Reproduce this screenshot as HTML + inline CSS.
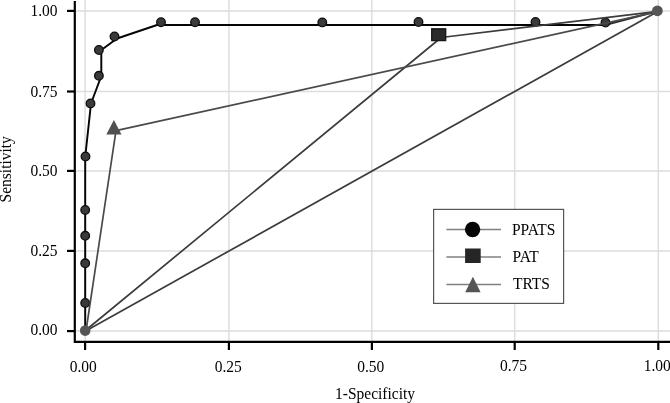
<!DOCTYPE html>
<html><head><meta charset="utf-8"><style>
html,body{margin:0;padding:0;background:#fff;width:670px;height:403px;overflow:hidden}
svg{display:block}
</style></head><body>
<svg width="670" height="403" viewBox="0 0 670 403"><rect x="0" y="0" width="670" height="403" fill="#fff"/>
<g stroke="#dddddd" stroke-width="1.5"><line x1="85.10" y1="0" x2="85.10" y2="341" /><line x1="228.90" y1="0" x2="228.90" y2="341" /><line x1="371.85" y1="0" x2="371.85" y2="341" /><line x1="514.70" y1="0" x2="514.70" y2="341" /><line x1="658.30" y1="0" x2="658.30" y2="341" /><line x1="75" y1="331.10" x2="670" y2="331.10" /><line x1="75" y1="250.90" x2="670" y2="250.90" /><line x1="75" y1="170.90" x2="670" y2="170.90" /><line x1="75" y1="91.50" x2="670" y2="91.50" /><line x1="75" y1="10.90" x2="670" y2="10.90" /></g>
<polyline points="85.2,331.0 85.2,157.0 91.0,103.5 101.3,76.0 101.3,50.0 117.0,38.5 157.0,25.0 605.0,25.0" fill="none" stroke="#050505" stroke-width="1.95" stroke-linejoin="round"/>
<polyline points="605.0,25.0 658.0,11.0" fill="none" stroke="#2a2a2a" stroke-width="2.0"/>
<g fill="#3a3a3a" stroke="#0d0d0d" stroke-width="1.3"><circle cx="85.2" cy="303.0" r="4.3"/><circle cx="85.2" cy="263.3" r="4.3"/><circle cx="85.2" cy="235.8" r="4.3"/><circle cx="85.2" cy="210.0" r="4.3"/><circle cx="85.5" cy="156.5" r="4.3"/><circle cx="90.5" cy="103.4" r="4.3"/><circle cx="98.9" cy="75.8" r="4.3"/><circle cx="98.9" cy="50.0" r="4.3"/><circle cx="114.5" cy="36.5" r="4.3"/><circle cx="161.0" cy="22.2" r="4.3"/><circle cx="195.0" cy="22.2" r="4.3"/><circle cx="322.3" cy="22.4" r="4.3"/><circle cx="418.5" cy="22.0" r="4.3"/><circle cx="535.5" cy="22.0" r="4.3"/><circle cx="605.5" cy="22.5" r="4.3"/></g>
<polyline points="85.2,331.3 658.2,11.3" fill="none" stroke="#3c3c3c" stroke-width="1.7" stroke-linejoin="round"/>
<polyline points="84.8,331.0 441.2,37.5 658.0,11.3" fill="none" stroke="#3c3c3c" stroke-width="1.7" stroke-linejoin="round"/>
<polyline points="86.0,331.0 116.0,130.6 658.0,11.6" fill="none" stroke="#4a4a4a" stroke-width="1.7" stroke-linejoin="round"/>
<rect x="431.7" y="28.8" width="14" height="11.8" fill="#2a2a2a" stroke="#161616" stroke-width="1.3"/>
<polygon points="113.9,120.0 121.5,134.6 106.3,134.6" fill="#505050"/>
<circle cx="85.2" cy="330.6" r="5.3" fill="#555"/>
<circle cx="657.4" cy="10.8" r="5.4" fill="#555"/>
<g stroke="#000" stroke-width="2.2" fill="none"><polyline points="74.8,1 74.8,341.8 670,341.8"/><line x1="67" y1="331.1" x2="74" y2="331.1"/><line x1="67" y1="250.9" x2="74" y2="250.9"/><line x1="67" y1="170.9" x2="74" y2="170.9"/><line x1="67" y1="91.5" x2="74" y2="91.5"/><line x1="67" y1="10.9" x2="74" y2="10.9"/><line x1="85.1" y1="342" x2="85.1" y2="350"/><line x1="228.9" y1="342" x2="228.9" y2="350"/><line x1="371.9" y1="342" x2="371.9" y2="350"/><line x1="514.7" y1="342" x2="514.7" y2="350"/><line x1="658.3" y1="342" x2="658.3" y2="350"/></g>
<g font-family="Liberation Serif, serif" font-size="15.5" fill="#000"><text transform="translate(57.5,335.0) scale(1,1.12)" text-anchor="end">0.00</text><text transform="translate(83.2,371.8) scale(1,1.12)" text-anchor="middle">0.00</text><text transform="translate(57.5,256.0) scale(1,1.12)" text-anchor="end">0.25</text><text transform="translate(228.3,371.8) scale(1,1.12)" text-anchor="middle">0.25</text><text transform="translate(57.5,176.2) scale(1,1.12)" text-anchor="end">0.50</text><text transform="translate(370.8,371.8) scale(1,1.12)" text-anchor="middle">0.50</text><text transform="translate(57.5,97.3) scale(1,1.12)" text-anchor="end">0.75</text><text transform="translate(513.5,370.8) scale(1,1.12)" text-anchor="middle">0.75</text><text transform="translate(57.5,16.1) scale(1,1.12)" text-anchor="end">1.00</text><text transform="translate(657.2,370.9) scale(1,1.12)" text-anchor="middle">1.00</text></g>
<g font-family="Liberation Serif, serif" font-size="15.5" fill="#000"><text transform="translate(375.0,399.0) scale(1,1.12)" text-anchor="middle">1-Specificity</text><text transform="translate(11.0,169.3) rotate(-90) scale(1,1.12)" text-anchor="middle">Sensitivity</text></g>
<rect x="433.6" y="209.4" width="130" height="94" fill="#fff" stroke="#555" stroke-width="1.2"/><line x1="446.4" y1="229.4" x2="501" y2="229.4" stroke="#808080" stroke-width="1.5"/><line x1="446.4" y1="257" x2="501" y2="257" stroke="#808080" stroke-width="1.5"/><line x1="446.4" y1="284.4" x2="501" y2="284.4" stroke="#808080" stroke-width="1.5"/><circle cx="472.6" cy="229.5" r="7.7" fill="#050505"/><rect x="465.1" y="248.5" width="15.6" height="14.5" fill="#262626"/><polygon points="472.9,276.8 480.6,292.3 465.2,292.3" fill="#555"/><g font-family="Liberation Serif, serif" font-size="15.5" fill="#000"><text transform="translate(512.0,234.7) scale(1,1.12)">PPATS</text><text transform="translate(512.5,262.3) scale(1,1.12)">PAT</text><text transform="translate(513.0,288.6) scale(1,1.12)">TRTS</text></g></svg>
</body></html>
